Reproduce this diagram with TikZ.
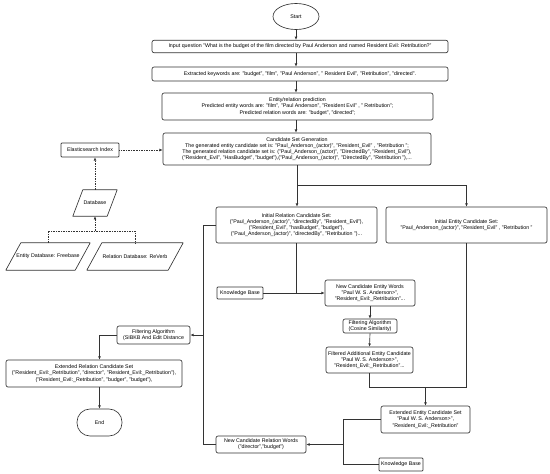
\documentclass[tikz,border=0pt]{standalone}
\usepackage{fontspec}
\setmainfont{Liberation Sans}
\usetikzlibrary{shapes.geometric,arrows.meta,calc}
\tikzset{
  txt/.style={font=\fontsize{5.3}{6.2}\selectfont},
  box/.style={draw=black!80, rounded corners=2pt, line width=0.65pt, fill=white, align=center, inner sep=0.5pt, txt},
  sqbox/.style={box, rounded corners=0.8pt},
  para/.style={rectangle, align=center, inner sep=0pt, txt},
  line/.style={draw=black!80, line width=0.65pt},
  arr/.style={line, -{Latex[length=3.2pt,width=2.8pt]}},
  dot/.style={line, densely dotted, line width=0.75pt},
  darr/.style={dot, -{Latex[length=3.2pt,width=2.8pt]}},
}
\begin{document}
\begin{tikzpicture}[x=1pt,y=-1pt]
\useasboundingbox (0,0) rectangle (550,474);
\node[ellipse, draw=black!80, line width=0.65pt, minimum width=46pt, minimum height=26pt, inner sep=0pt, txt] (start) at (296,16.5) {Start};
\node[box, minimum width=296pt, minimum height=12.5pt] (input) at (300,46.5) {Input question "What is the budget of the film directed by Paul Anderson and named Resident Evil: Retribution?"};
\node[box, minimum width=296pt, minimum height=14pt] (kw) at (300,74) {Extracted keywords are: "budget", "film", "Paul Anderson", " Resident Evil", "Retribution", "directed".};
\node[box, minimum width=271pt, minimum height=27pt] (pred) at (297.5,106.5) {Entity/relation prediction\\Predicted entity words are: "film", "Paul Anderson", "Resident Evil" , " Retribution";\\Predicted relation words are: "budget", "directed";};
\node[box, minimum width=268pt, minimum height=32pt] (cand) at (297,149) {Candidate Set Generation\\The generated entity candidate set is: "Paul\_Anderson\_(actor)", "Resident\_Evil" , "Retribution ";\\The generated relation candidate set is: ("Paul\_Anderson\_(actor)", "DirectedBy", "Resident\_Evil"),\\("Resident\_Evil", "HasBudget", "budget"),("Paul\_Anderson\_(actor)", "DirectedBy", "Retribution "),...};
\node[sqbox, minimum width=58pt, minimum height=14pt] (es) at (90,150) {Elasticsearch Index};
\node[para, minimum width=44pt, minimum height=26pt] (db) at (95,203) {Database};
\node[para, minimum width=84pt, minimum height=27pt] (edb) at (48,256.5) {Entity Database: Freebase};
\node[para, minimum width=96pt, minimum height=27pt] (rdb) at (135,256.5) {Relation Database: ReVerb};
\foreach \n/\s in {db/10,edb/15,rdb/15}{
  \draw[line, line join=round] (\n.south west) -- ($(\n.south east)+(-\s,0)$) -- (\n.north east) -- ($(\n.north west)+(\s,0)$) -- cycle;
}
\node[box, minimum width=161pt, minimum height=36pt] (irel) at (296.5,225) {Initial Relation Candidate Set:\\("Paul\_Anderson\_(actor)", "directedBy", "Resident\_Evil"),\\("Resident\_Evil", "hasBudget", "budget"),\\("Paul\_Anderson\_(actor)", "directedBy", "Retribution ")...};
\node[box, minimum width=161pt, minimum height=36pt] (ient) at (466.5,225) {Initial Entity Candidate Set:\\"Paul\_Anderson\_(actor)", "Resident\_Evil" , "Retribution "};
\node[sqbox, minimum width=46pt, minimum height=12pt] (kb1) at (240,293) {Knowledge Base};
\node[box, minimum width=90pt, minimum height=26pt] (nent) at (370,293) {New Candidate Entity Words\\"Paul W. S. Anderson>",\\"Resident\_Evil:\_Retribution"...};
\node[box, minimum width=54pt, minimum height=14pt] (f1) at (370,326) {Filtering Algorithm\\(Cosine Similarity)};
\node[box, minimum width=87pt, minimum height=26pt] (fent) at (369.5,360) {Filtered Additional Entity Candidate\\"Paul W. S. Anderson>",\\"Resident\_Evil:\_Retribution"...};
\node[box, minimum width=89pt, minimum height=27pt] (eent) at (425.5,419.5) {Extended Entity Candidate Set\\"Paul W. S. Anderson>",\\"Resident\_Evil:\_Retribution"};
\node[sqbox, minimum width=44pt, minimum height=13pt] (kb2) at (401,464.5) {Knowledge Base};
\node[box, minimum width=90pt, minimum height=17pt] (nrel) at (261,444.5) {New Candidate Relation Words\\("director","budget")};
\node[box, minimum width=73pt, minimum height=18pt] (f2) at (153.5,335) {Filtering Algorithm\\(SIBKB And Edit Distance};
\node[box, minimum width=176pt, minimum height=27pt] (erel) at (94,373.5) {Extended Relation Candidate Set\\("Resident\_Evil:\_Retribution", "director", "Resident\_Evil:\_Retribution"),\\("Resident\_Evil:\_Retribution", "budger", "budget"),};
\node[box, rounded corners=13pt, minimum width=45pt, minimum height=27pt] (end) at (99.5,422.5) {End};
% coordinates
\coordinate (split) at (297,185);
\coordinate (dbj) at (95,231);
\coordinate (mrg) at (425.5,387);
\coordinate (br) at (343,444.5);
\coordinate (vl) at (203,335);
% main chain
\draw[arr] (start.south) -- (start.south |- input.north);
\draw[arr] (start.south |- input.south) -- (start.south |- kw.north);
\draw[arr] (start.south |- kw.south) -- (start.south |- pred.north);
\draw[arr] (start.south |- pred.south) -- (start.south |- cand.north);
% databases
\draw[darr] (es.east) -- (es.east -| cand.west);
\draw[darr] (db.north) -- (db.north |- es.south);
\draw[dot] (edb.north) |- (dbj) -| (rdb.north);
\draw[darr] (dbj) -- (db.south);
% split
\draw[line] (split |- cand.south) -- (split);
\draw[arr] (split) -- (split |- irel.north);
\draw[arr] (split) -| (ient.north);
% entity branch
\draw[arr] (kb1.east) -- (nent.west);
\draw[line] (irel.south) -- (irel.south |- kb1.east);
\draw[arr] (nent.south) -- (f1.north);
\draw[arr] (f1.south) -- (fent.north);
\draw[line] (fent.south) |- (ient.south |- mrg) -- (ient.south);
\draw[arr] (mrg) -- (eent.north);
\draw[line] (eent.west) -| (br);
\draw[line] (br) |- (kb2.west);
\draw[arr] (br) -- (nrel.east);
% relation branch
\draw[line] (irel.west) -| (vl);
\draw[line] (nrel.west) -| (vl);
\draw[arr] (vl) -- (f2.east);
\draw[arr] (f2.west) -| (end.north |- erel.north);
\draw[arr] (end.north |- erel.south) -- (end.north);
\end{tikzpicture}
\end{document}
